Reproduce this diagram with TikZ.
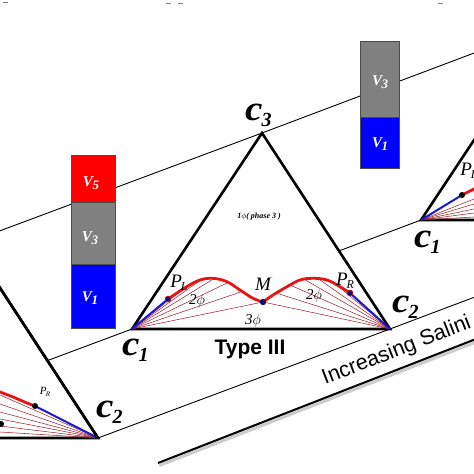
\documentclass[tikz,border=0pt]{standalone}
\usepackage{fontspec}
\setmainfont{Liberation Serif}
\newfontfamily\arialf{Liberation Sans}
\definecolor{tiecol}{RGB}{165,40,50}
\definecolor{curvered}{RGB}{232,20,20}
\definecolor{pblue}{RGB}{25,25,205}
\definecolor{dotblue}{RGB}{15,15,110}
\definecolor{boxred}{RGB}{255,0,0}
\definecolor{boxgray}{RGB}{128,128,128}
\definecolor{boxblue}{RGB}{0,0,255}
\newcommand{\clab}[1]{\scalebox{1.12}[1]{{\fontsize{35}{35}\selectfont\bfseries\itshape c}}\kern-1pt\raisebox{-6pt}{\fontsize{20}{20}\selectfont\bfseries\itshape #1}}
\newcommand{\vlab}[1]{{\fontsize{15}{15}\selectfont\bfseries\itshape V}\kern-0.5pt\raisebox{-2.5pt}{\fontsize{13}{13}\selectfont\bfseries\itshape #1}}
\newcommand{\plab}[1]{{\fontsize{19}{19}\selectfont\itshape P}\kern-1pt\raisebox{-3pt}{\fontsize{12}{12}\selectfont\itshape #1}}
\begin{document}
\begin{tikzpicture}[x=1pt,y=-1pt,
  tri/.style={draw=black,line width=2.6pt,fill=white,line join=miter},
  triedge/.style={draw=black,line width=2.6pt,line join=miter},
  conn/.style={draw=black,line width=0.9pt},
  tie/.style={draw=tiecol,line width=0.55pt},
  phasecurve/.style={draw=curvered,line width=2.8pt,line cap=round},
  bluel/.style={draw=pblue,line width=2pt},
  vbox/.style={draw=black!70,line width=0.6pt},
  vtext/.style={text=white,inner sep=0pt},
  lab/.style={inner sep=0pt}]
\useasboundingbox (0,0) rectangle (474,474);
\clip (0,0) rectangle (474,474);
% vertices
\coordinate (c1) at (132,329);
\coordinate (c2) at (390,329);
\coordinate (c3) at (262,133);
\coordinate (Lc1) at (-160,438);
\coordinate (Lc2) at (98,438);
\coordinate (Lc3) at (-30,242);
\coordinate (Rc1) at (421,220);
\coordinate (Rc2) at (679,220);
\coordinate (Rc3) at (551,24);
% faint marks at top edge
\draw[gray,line width=0.8pt] (3,2)--(8,2) (166,3)--(171,3) (178,3)--(183,3) (438,3)--(443,3);
% connecting lines between corresponding vertices
\draw[conn] (Lc1) -- (c1) -- (Rc1);
\draw[conn] (Lc2) -- (c2) -- (Rc2);
\draw[conn] (Lc3) -- (c3) -- (Rc3);
% salinity line with shadow
\coordinate (s1) at (158,463);
\coordinate (s2) at (500,329.6);
\draw[gray!40,line width=3pt] ([shift={(1.5,2.5)}]s1) -- ([shift={(1.5,2.5)}]s2);
\draw[black,line width=2pt] (s1) -- (s2);
\node[anchor=base west,rotate=21.3,inner sep=0pt] (sal) at (325,385) {\arialf\fontsize{21.5}{21.5}\selectfont Increasing Salini};
% triangles
\filldraw[tri] (Lc1)--(Lc2)--(Lc3)--cycle;
\filldraw[tri] (c1)--(c2)--(c3)--cycle;
\filldraw[tri] (Rc1)--(Rc2)--(Rc3)--cycle;
% ---------- main triangle content
\coordinate (PL) at (168,299);
\coordinate (M) at (263,302);
\coordinate (PR) at (350,293);
\foreach \p in {(186,287),(200,280.5),(214,278.6),(228,282.5),(242,291.5),(263,302)}
  \draw[tie] (c1) -- \p;
\foreach \p in {(263,302),(276,293),(290,285),(304,279.2),(318,278.5),(333,282)}
  \draw[tie] (c2) -- \p;
\draw[phasecurve] plot[smooth,tension=0.6] coordinates {(168,299) (186.7,286.7) (200,280) (213,278.3) (227,281.7) (240,290) (253,298.3) (263,302)};
\draw[phasecurve] plot[smooth,tension=0.6] coordinates {(263,302) (273,295) (287,286.7) (300,280) (313,278.3) (327,280) (340,286.7) (350,293)};
\draw[bluel] (c1) -- (PL);
\draw[bluel] (c2) -- (PR);
\filldraw[fill=dotblue,draw=curvered,line width=0.5pt] (PL) circle (3);
\fill[dotblue] (M) circle (3.2);
\filldraw[fill=dotblue,draw=curvered,line width=0.5pt] (PR) circle (3);
\node[lab] (lPL) at (179,283) {\plab{L}};
\node[lab] (lM) at (263,284) {\fontsize{19}{19}\selectfont\itshape M};
\node[lab] (lPR) at (345,281) {\plab{R}};
\node[lab] (f2a) at (197,301) {\fontsize{15}{15}\selectfont\itshape 2$\phi$};
\node[lab] (f2b) at (314,296) {\fontsize{15}{15}\selectfont\itshape 2$\phi$};
\node[lab] (f3) at (253,321) {\fontsize{15}{15}\selectfont\itshape 3$\phi$};
\node[lab] (f1) at (259,217) {\fontsize{8}{8}\selectfont\bfseries\itshape 1$\phi$( phase 3 )};
\node[lab] (type) at (250,349) {\arialf\bfseries\fontsize{21}{21}\selectfont Type III};
% ---------- left triangle content
\coordinate (LPR) at (35,406);
\coordinate (LM) at (1,424);
\foreach \y in {395,404,412,419,426,432}
  \draw[tie] (Lc2) -- (0,\y);
\draw[phasecurve,line cap=butt] plot[smooth] coordinates {(-5,390) (0,392) (13,397) (27,403) (35,406)};
\draw[bluel] (Lc2) -- (LPR);
\fill[black] (LPR) circle (3);
\fill[black] (LM) circle (3);
\node[lab] (lLPR) at (45,392) {{\fontsize{11}{11}\selectfont\itshape P}\kern-0.5pt\raisebox{-2pt}{\fontsize{7}{7}\selectfont\itshape R}};
% ---------- right triangle content
\coordinate (RPL) at (462,195);
\foreach \y in {199,204,209,213,217}
  \draw[tie] (Rc1) -- (474,\y);
\draw[phasecurve,line cap=butt] (RPL) -- (480,186);
\draw[bluel] (Rc1) -- (RPL);
\fill[black] (RPL) circle (3);
\node[lab] (lRPL) at (469,171) {\plab{L}};
% redraw edge on top of left triangle content
\draw[triedge] (Lc2)--(Lc3);
% ---------- phase volume boxes
\filldraw[vbox,fill=boxred] (71,155) rectangle (115,202);
\filldraw[vbox,fill=boxgray] (71,202) rectangle (115,264);
\filldraw[vbox,fill=boxblue] (71,264) rectangle (115,328);
\node[vtext] (v5) at (91,183) {\vlab{5}};
\node[vtext] (v3a) at (90,238) {\vlab{3}};
\node[vtext] (v1a) at (90,298) {\vlab{1}};
\filldraw[vbox,fill=boxgray] (360,41) rectangle (399,117);
\filldraw[vbox,fill=boxblue] (360,117) rectangle (399,168);
\node[vtext] (v3b) at (380,82) {\vlab{3}};
\node[vtext] (v1b) at (380,144) {\vlab{1}};
% ---------- vertex labels
\node[lab,anchor=base west] (lc3) at (245,120) {\clab{3}};
\node[lab,anchor=base west] (lc1) at (122,355) {\clab{1}};
\node[lab,anchor=base west] (lc2) at (392,312) {\clab{2}};
\node[lab,anchor=base west] (lLc2) at (96,417) {\clab{2}};
\node[lab,anchor=base west] (lRc1) at (414,247) {\clab{1}};
\end{tikzpicture}
\end{document}
